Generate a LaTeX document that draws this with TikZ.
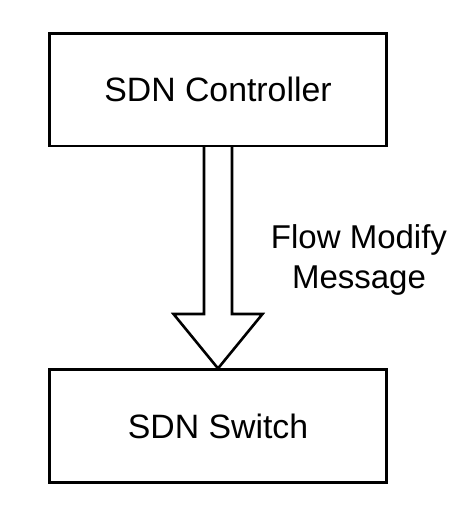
\documentclass[tikz,border=0pt]{standalone}
\usepackage{fontspec}
\setmainfont{Liberation Sans}
\usetikzlibrary{calc}
\begin{document}
\begin{tikzpicture}[x=1pt,y=1pt,
  box/.style={draw=black,line width=2.6pt,minimum width=337pt,minimum height=112.5pt,inner sep=0pt,font=\fontsize{33.8}{40}\selectfont},
  lbl/.style={align=center,font=\fontsize{33}{40}\selectfont,inner sep=0pt},
  bigarrow/.style={draw=black,fill=white,line width=2.6pt,line join=miter}]
\useasboundingbox (0,0) rectangle (474,509);
\fill[white] (0,0) rectangle (474,509);
\node[box] (ctrl) at (218,419.3) {SDN Controller};
\node[box] (sw) at (218,83) {SDN Switch};
\coordinate (s1) at ($(ctrl.south)+(-14,0)$);
\coordinate (s2) at ($(ctrl.south)+(14,0)$);
\coordinate (h1) at ($(s1|-0,195)$);
\coordinate (h2) at ($(s2|-0,195)$);
\coordinate (w1) at ($(h1)+(-30.5,0)$);
\coordinate (w2) at ($(h2)+(30.5,0)$);
\draw[bigarrow] (s1) -- (h1) -- (w1) -- (sw.north) -- (w2) -- (h2) -- (s2);
\node[lbl] (msg) at (359,249.5) {Flow Modify\\Message};
\end{tikzpicture}
\end{document}
